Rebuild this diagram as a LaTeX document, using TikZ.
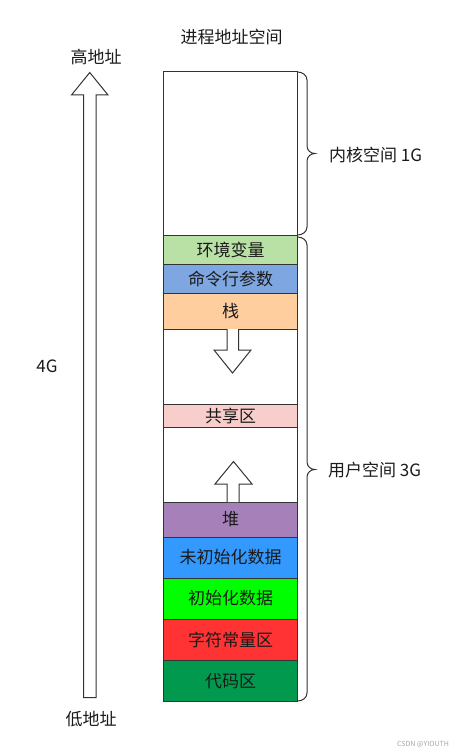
\documentclass[tikz,border=0pt]{standalone}
\usepackage{fontspec}
\setmainfont{Noto Sans CJK SC}
\definecolor{cEnv}{HTML}{B9E0A5}
\definecolor{cCmd}{HTML}{7EA6E0}
\definecolor{cStack}{HTML}{FFCE9F}
\definecolor{cShare}{HTML}{F8CECC}
\definecolor{cHeap}{HTML}{A680B8}
\definecolor{cBss}{HTML}{3399FF}
\definecolor{cData}{HTML}{00FF00}
\definecolor{cRo}{HTML}{FF3333}
\definecolor{cCode}{HTML}{00994D}
\definecolor{cLine}{HTML}{333333}
\definecolor{cText}{HTML}{1A1A1A}
\tikzset{
  seg/.style={draw=cLine, line width=1pt, minimum width=134pt, inner sep=0pt, outer sep=0pt,
    text=cText, font=\fontsize{17}{19}\selectfont},
  lbl/.style={inner sep=0pt, text=cText, font=\fontsize{17}{19}\selectfont},
  blockarrow/.style={draw=cLine, line width=1pt, fill=white, line join=miter},
  bracestyle/.style={draw=cLine, line width=1pt}
}
\begin{document}
\begin{tikzpicture}[x=1pt,y=-1pt]
\useasboundingbox[fill=white] (0,0) rectangle (474,754);
% whole column
\node[seg, minimum height=629.5pt] (space) at (230.5,386.75) {};
\node[seg, minimum height=163pt] (kernel) at (230.5,153.5) {};
\node[seg, fill=cEnv, minimum height=29pt] (env) at (230.5,249.5) {环境变量};
\node[seg, fill=cCmd, minimum height=29pt] (cmd) at (230.5,278.5) {命令行参数};
\node[seg, fill=cStack, minimum height=36pt] (stack) at (230.5,311) {栈};
\node[seg, fill=cShare, minimum height=23pt] (share) at (230.5,415.5) {共享区};
\node[seg, fill=cHeap, minimum height=35pt] (heap) at (230.5,519.5) {堆};
\node[seg, fill=cBss, minimum height=41pt] (bss) at (230.5,557.5) {未初始化数据};
\node[seg, fill=cData, minimum height=41pt] (data) at (230.5,598.5) {初始化数据};
\node[seg, fill=cRo, minimum height=41.5pt] (ro) at (230.5,639.75) {字符常量区};
\node[seg, fill=cCode, minimum height=41pt] (code) at (230.5,681) {代码区};
% block arrows
\draw[blockarrow] (227,329) -- (227,350) -- (214,350) -- (232.5,373) -- (251,350) -- (238.5,350) -- (238.5,329);
\draw[blockarrow] (227,502) -- (227,484) -- (215,484) -- (233.5,461.5) -- (252,484) -- (239,484) -- (239,502);
\draw[blockarrow] (83.5,697.5) -- (83.5,95) -- (71.5,95) -- (89.75,72.5) -- (108,95) -- (96,95) -- (96,697.5) -- cycle;
% braces
\draw[bracestyle] (297.5,72) to[out=0,in=90] (307,80) -- (307,146) to[out=-90,in=180] (315,153.5)
  to[out=180,in=90] (307,161) -- (307,227) to[out=-90,in=0] (297.5,235);
\draw[bracestyle] (297.5,237) to[out=0,in=90] (307,245) -- (307,462) to[out=-90,in=180] (315,469.5)
  to[out=180,in=90] (307,477) -- (307,693) to[out=-90,in=0] (297.5,701);
% texts
\node[lbl] (title) at (231.5,37) {进程地址空间};
\node[lbl] (high) at (96,57) {高地址};
\node[lbl] (low) at (91,719) {低地址};
\node[lbl] (fourg) at (47,366) {4G};
\node[lbl, anchor=west] (klabel) at (329,155) {内核空间 1G};
\node[lbl, anchor=west] (ulabel) at (328,470) {用户空间 3G};
\node[inner sep=0pt, text=black!35, font=\fontsize{7}{8}\selectfont] (wm) at (423,744) {CSDN @YIOUTH};
\end{tikzpicture}
\end{document}
